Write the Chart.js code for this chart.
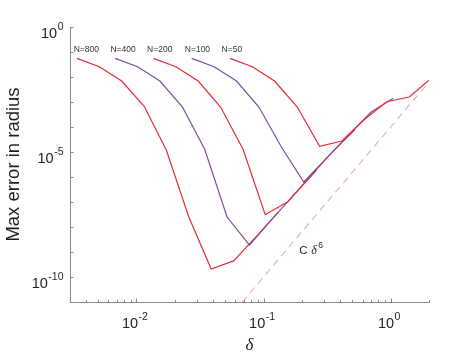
<!DOCTYPE html>
<html><head><meta charset="utf-8">
<script src="https://cdn.jsdelivr.net/npm/chart.js@4.4.0/dist/chart.umd.min.js"></script>
<style>html,body{margin:0;padding:0;background:#fff}#wrap{width:474px;height:355px}</style>
</head><body><div id="wrap"><canvas id="c" width="474" height="355"></canvas></div>
<script>
// ---- data ----
const seriesNames = ['N=800', 'N=400', 'N=200', 'N=100', 'N=50'];
const deltaN800 = [0.0034, 0.0051, 0.00765, 0.0115, 0.0172, 0.0258, 0.0387, 0.0581, 0.0871, 0.131];
const errN800   = [0.0558, 0.0259, 0.00692, 6.7e-4, 1.17e-5, 2.5e-8, 2.1e-10, 4.4e-10, 4.0e-9, 4.0e-8];
const deltaN400 = [0.0068, 0.0102, 0.0153, 0.0230, 0.0344, 0.0516, 0.0774, 0.116, 0.174, 0.261];
const errN400   = [0.0558, 0.0259, 0.00692, 6.3e-4, 1.28e-5, 2.5e-8, 1.9e-9, 2.0e-8, 1.96e-7, 1.9e-6];
const deltaN200 = [0.0136, 0.0204, 0.0306, 0.0459, 0.0689, 0.103, 0.155, 0.232, 0.349, 0.523];
const errN200   = [0.0558, 0.0259, 0.00692, 6.3e-4, 1.28e-5, 3.1e-8, 1.03e-7, 1.03e-6, 1.03e-5, 7.9e-5];
const deltaN100 = [0.0272, 0.0408, 0.0612, 0.0918, 0.138, 0.207, 0.310, 0.465, 0.697, 1.046];
const errN100   = [0.0558, 0.0259, 0.00692, 6.3e-4, 1.58e-5, 6.3e-7, 5.4e-6, 4.6e-5, 3.9e-4, 1.4e-3];
const deltaN50  = [0.0544, 0.0816, 0.122, 0.184, 0.276, 0.413, 0.620, 0.930, 1.40, 2.0];
const errN50    = [0.0558, 0.0259, 0.00692, 6.3e-4, 1.69e-5, 2.75e-5, 2.0e-4, 1.02e-3, 1.58e-3, 7.4e-3];
const refDelta  = [0.068, 1.95];          // C*delta^6 reference line
const refErr    = [1.0e-11, 5.5e-3];
const yTickValues = [1e-11, 1e-10, 1e-9, 1e-8, 1e-7, 1e-6, 1e-5, 1e-4, 1e-3, 1e-2, 1e-1, 1];
const yLabelValues = [1, 1e-5, 1e-10];
const yLabelExps = ['0', '-5', '-10'];
const xLabelValues = [0.01, 0.1, 1];
const xLabelExps = ['-2', '-1', '0'];
const xMinorTicks = [0.004, 0.005, 0.006, 0.007, 0.008, 0.009, 0.02, 0.03, 0.04, 0.05, 0.06, 0.07, 0.08, 0.09,
                     0.2, 0.3, 0.4, 0.5, 0.6, 0.7, 0.8, 0.9, 2];

// ---- styling / annotations ----
const RED = 'rgb(232,42,56)';
const PURPLE = 'rgb(122,78,156)';
const DASH = 'rgb(226,178,162)';
const AXIS = '#8a8a8a';
const seriesColors = [RED, PURPLE, RED, PURPLE, RED];
const nLabelAnchorX = [0.00321, 0.00624, 0.01212, 0.0240, 0.0467];
const nLabelAnchorY = 0.097;
const cLabelAnchor = {x: 0.1907, y: 8.6e-10};

const toPts = (xs, ys) => xs.map((x, i) => ({x: x, y: ys[i]}));
const allDelta = [deltaN800, deltaN400, deltaN200, deltaN100, deltaN50];
const allErr = [errN800, errN400, errN200, errN100, errN50];

const datasets = [{
  label: 'C delta^6', data: toPts(refDelta, refErr), borderColor: DASH, borderWidth: 1.1,
  borderDash: [7, 5], pointRadius: 0, fill: false, tension: 0, order: 10
}];
seriesNames.forEach((n, i) => {
  datasets.push({label: n, data: toPts(allDelta[i], allErr[i]), borderColor: seriesColors[i],
    borderWidth: 1.2, pointRadius: 0, fill: false, tension: 0, order: 5 - i});
});

function drawPow(ctx, base, exp, x, yBase, ySup, align, fBase, fSup) {
  ctx.font = fBase; const wb = ctx.measureText(base).width;
  ctx.font = fSup; const we = ctx.measureText(exp).width;
  const w = wb + we + 0.5;
  let left = x;
  if (align === 'right') left = x - w; else if (align === 'center') left = x - w / 2;
  ctx.textAlign = 'left'; ctx.textBaseline = 'alphabetic';
  ctx.font = fBase; ctx.fillText(base, left, yBase);
  ctx.font = fSup; ctx.fillText(exp, left + wb + 0.5, ySup);
}

const decor = {
  id: 'decor',
  afterDraw(chart) {
    const ctx = chart.ctx, xs = chart.scales.x, ys = chart.scales.y, a = chart.chartArea;
    ctx.save();
    ctx.strokeStyle = AXIS; ctx.lineWidth = 1;
    ctx.beginPath();
    yTickValues.forEach(v => { const p = Math.round(ys.getPixelForValue(v)) + 0.5; ctx.moveTo(a.left, p); ctx.lineTo(a.left + 3.5, p); });
    xLabelValues.forEach(v => { const p = Math.round(xs.getPixelForValue(v)) + 0.5; ctx.moveTo(p, a.bottom); ctx.lineTo(p, a.bottom - 3.5); });
    xMinorTicks.forEach(v => { const p = Math.round(xs.getPixelForValue(v)) + 0.5; ctx.moveTo(p, a.bottom); ctx.lineTo(p, a.bottom - 2); });
    ctx.stroke();

    ctx.fillStyle = '#1e1e1e';
    const fB = '14.5px "Liberation Sans", Arial, sans-serif';
    const fS = '10.5px "Liberation Sans", Arial, sans-serif';
    yLabelValues.forEach((v, i) => {
      const p = ys.getPixelForValue(v);
      drawPow(ctx, '10', yLabelExps[i], 63.5, p + 10.5, p + 2.5, 'right', fB, fS);
    });
    xLabelValues.forEach((v, i) => {
      const p = xs.getPixelForValue(v);
      drawPow(ctx, '10', xLabelExps[i], p - 1.5, 327.5, 320, 'center', fB, fS);
    });

    // axis titles
    ctx.save();
    ctx.translate(18.5, (a.top + a.bottom) / 2);
    ctx.rotate(-Math.PI / 2);
    ctx.font = '18.5px "Liberation Sans", Arial, sans-serif';
    ctx.textAlign = 'center'; ctx.textBaseline = 'alphabetic';
    ctx.fillText('Max error in radius', 0, 0);
    ctx.restore();
    ctx.font = 'italic 17px "Liberation Serif", "Times New Roman", serif';
    ctx.textAlign = 'center'; ctx.textBaseline = 'alphabetic';
    ctx.fillText('δ', (a.left + a.right) / 2, 349.5);

    // series labels
    ctx.fillStyle = '#333';
    ctx.font = '8.5px "Liberation Sans", Arial, sans-serif';
    ctx.textAlign = 'left';
    const ly = ys.getPixelForValue(nLabelAnchorY);
    seriesNames.forEach((n, i) => ctx.fillText(n, xs.getPixelForValue(nLabelAnchorX[i]), ly));

    // C delta^6 label
    ctx.fillStyle = '#1e1e1e';
    const cx = xs.getPixelForValue(cLabelAnchor.x), cy = ys.getPixelForValue(cLabelAnchor.y);
    ctx.font = '11.5px "Liberation Sans", Arial, sans-serif';
    ctx.fillText('C', cx, cy);
    ctx.font = 'italic 12px "Liberation Serif", "Times New Roman", serif';
    ctx.fillText('δ', cx + 12, cy);
    ctx.font = '8.5px "Liberation Sans", Arial, sans-serif';
    ctx.fillText('6', cx + 19, cy - 6);
    ctx.restore();
  }
};

new Chart(document.getElementById('c'), {
  type: 'line',
  data: {datasets: datasets},
  options: {
    responsive: false, animation: false, devicePixelRatio: 1,
    layout: {padding: {left: 0, top: 27, right: 45, bottom: 0}},
    plugins: {legend: {display: false}, tooltip: {enabled: false}},
    scales: {
      x: {type: 'logarithmic', min: 0.003, max: 2, grid: {display: false},
          ticks: {display: false}, border: {display: true, color: AXIS, width: 1},
          afterFit(s) { s.height = 53; }},
      y: {type: 'logarithmic', min: 1e-11, max: 1, grid: {display: false},
          ticks: {display: false}, border: {display: true, color: AXIS, width: 1},
          afterFit(s) { s.width = 70; }}
    }
  },
  plugins: [decor]
});
</script></body></html>
